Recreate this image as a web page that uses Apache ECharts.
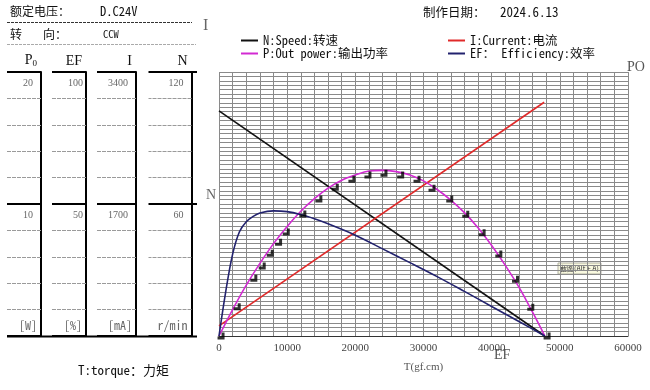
<!DOCTYPE html>
<html><head><meta charset="utf-8">
<script src="https://cdn.jsdelivr.net/npm/echarts@6/dist/echarts.min.js"></script>
<style>html,body{margin:0;padding:0;background:#fff}#c{width:650px;height:390px}</style>
</head><body><div id="c"></div>
<script>
// ---------- data ----------
const seriesNames = ['N:Speed:转速', 'I:Current:电流', 'P:Out power:输出功率', 'EF： Efficiency:效率'];
// Speed (r/min) vs torque (gf.cm)
const speedT = [0, 47800];
const speedN = [102.3, 0];
// Current (mA)
const currentT = [0, 47700];
const currentI = [130, 3010];
// Output power (W)
const powerT = [0, 2000, 4000, 6000, 8000, 10000, 12000, 14000, 16000, 18000, 20000, 22000, 24000,
  26000, 28000, 30000, 32000, 34000, 36000, 38000, 40000, 42000, 44000, 46000, 47800];
const powerW = [0, 2.0, 3.85, 5.5, 7.0, 8.3, 9.45, 10.4, 11.2, 11.8, 12.2, 12.5, 12.55,
  12.45, 12.2, 11.75, 11.1, 10.3, 9.35, 8.2, 6.85, 5.35, 3.7, 1.8, 0];
// Efficiency (%)
const effT = [0, 1000, 2000, 3000, 4000, 5000, 6000, 8000, 10000, 12000, 14000, 16000, 20000,
  24000, 28000, 32000, 36000, 40000, 44000, 47800];
const effPct = [0, 17, 31, 39.5, 43.3, 45.3, 46.6, 47.4, 47.1, 46.0, 44.4, 42.5, 38.2,
  33.0, 27.8, 22.5, 16.9, 11.2, 5.5, 0];
// measured power points (markers)
const markerT = [300, 2670, 5110, 6340, 7520, 8740, 9870, 12300, 14650, 17060, 19500, 21850, 24200,
  26650, 29050, 31250, 33850, 36200, 38600, 41050, 43500, 45740, 48130];
const markerP = [0, 2.22, 4.37, 5.30, 6.27, 7.10, 7.88, 9.24, 10.38, 11.27, 11.87, 12.20, 12.33,
  12.20, 11.87, 11.19, 10.38, 9.22, 7.83, 6.21, 4.30, 2.17, 0];
// left table axes
const tableNames = ['{a|P}{b|0}', 'EF', 'I', 'N'];
const tableMax = [20, 100, 3400, 120];
const tableStep = [10, 50, 1700, 60];
const tableUnits = ['[W]', '[%]', '[mA]', 'r/min'];
// x axis
const xMin = 0, xMax = 60000, xStep = 10000;
const headerTexts = ['额定电压：', 'D.C24V', '转', '向：', 'CCW', '制作日期：', '2024.6.13'];

// ---------- layout / style ----------
const SERIF = "'Liberation Serif','Noto Sans CJK SC',serif";
const MONO = "'Noto Sans Mono CJK SC','Liberation Mono','Noto Sans CJK SC',monospace";
const CJK = "'Noto Sans CJK SC',sans-serif";
const G = {left: 219, top: 72, width: 409, height: 264};
const axisX = [41, 86, 136, 191.5];
const tickLen = [34, 34, 39, 43];
const labelMargin = [8, 3, 8, 8];
const colors = {N: '#111111', I: '#e02a2a', P: '#d22ad2', EF: '#22226e'};
const gridLine = '#8a8a8a';

const zip = (a, b) => a.map((v, i) => [v, b[i]]);

const yAxes = tableMax.map((mx, i) => ({
  type: 'value', position: 'left', offset: G.left - axisX[i],
  min: 0, max: mx, interval: tableStep[i],
  name: tableNames[i], nameLocation: 'end', nameGap: 4,
  nameTextStyle: {align: 'right', verticalAlign: 'bottom', padding: [0, 4, 0, 0],
    fontSize: 14, color: '#111', fontFamily: SERIF,
    rich: {a: {fontSize: 14, fontFamily: SERIF, color: '#111'},
           b: {fontSize: 9, fontFamily: SERIF, color: '#111', verticalAlign: 'bottom', padding: [6, 0, 0, 0]}}},
  axisLine: {show: true, onZero: false, lineStyle: {color: '#000', width: 2}},
  axisTick: {show: true, length: tickLen[i], lineStyle: {color: '#000', width: 2}},
  minorTick: {show: true, splitNumber: 5, length: tickLen[i], lineStyle: {color: '#9a9a9a', width: 1, type: [4, 1]}},
  splitLine: {show: false}, minorSplitLine: {show: false},
  axisLabel: {show: true, showMinLabel: false, margin: labelMargin[i], verticalAlign: 'top',
    padding: [6, 0, 0, 0], fontSize: 10, color: '#666', fontFamily: SERIF,
    formatter: v => String(v)}
}));
// dense grid axis
yAxes.push({
  type: 'value', position: 'right', min: 0, max: 60, interval: 1,
  axisLine: {show: false}, axisTick: {show: false}, axisLabel: {show: false},
  splitLine: {show: true, lineStyle: {color: gridLine, width: 1}}
});

const txt = (x, y, text, font, fill, align) => ({
  type: 'text', x: x, y: y, silent: true,
  style: {text: text, font: font, fill: fill || '#111', align: align || 'left', textAlign: align || 'left',
    verticalAlign: 'middle', textVerticalAlign: 'middle'}
});
const ln = (x1, y1, x2, y2, stroke, w, dash) => ({
  type: 'line', silent: true, shape: {x1, y1, x2, y2},
  style: {stroke: stroke, lineWidth: w, lineDash: dash || null}
});

const graphic = [
  txt(10, 11, headerTexts[0], '12px ' + CJK),
  txt(100, 11, headerTexts[1], '12.5px ' + MONO),
  ln(7, 22.5, 192, 22.5, '#333', 1, [3, 1]),
  txt(10, 34, headerTexts[2], '12px ' + CJK),
  txt(43, 34, headerTexts[3], '12px ' + CJK),
  txt(103, 34, headerTexts[4], '10.5px ' + MONO),
  ln(7, 44.5, 196, 44.5, '#aaa', 1, [3, 1]),
  txt(203, 26, 'I', '16px ' + SERIF, '#666'),
  txt(206, 195, 'N', '14px ' + SERIF, '#666'),
  txt(423, 12, headerTexts[5], '12.5px ' + CJK),
  txt(500, 12, headerTexts[6], '13px ' + MONO),
  txt(627, 67, 'PO', '14px ' + SERIF, '#555'),
  txt(494, 355, 'EF', '14px ' + SERIF, '#555'),
  txt(78, 370, 'T:torque：力矩', '13px ' + MONO, '#111'),
  ln(7, 336.5, 197, 336.5, '#000', 2),
  ln(191, 72, 197, 72, '#000', 2),
  ln(191, 204, 197, 204, '#000', 2),
  {type: 'rect', silent: true, shape: {x: 558, y: 263, width: 43, height: 11},
   style: {fill: '#f9f9e0', stroke: '#b0b0a0', lineWidth: 1}},
  txt(579.5, 268.5, '截图(Alt + A)', '7px ' + CJK, '#333', 'center')
];
tableUnits.forEach((u, i) => graphic.push(txt(axisX[i] - 4, 325, u, '12px ' + MONO, '#666', 'right')));

const lineSeries = (name, data, yIdx, color, smooth) => ({
  name: name, type: 'line', data: data, yAxisIndex: yIdx, smooth: smooth || false,
  showSymbol: false, symbol: 'none',
  lineStyle: {color: color, width: 1.6}, itemStyle: {color: color}, z: 6
});

const legendBase = {
  orient: 'vertical', top: 34, padding: 0, itemGap: 0, icon: 'rect',
  itemWidth: 17, itemHeight: 2,
  textStyle: {fontSize: 12.5, lineHeight: 13, color: '#111', fontFamily: MONO}
};

const option = {
  animation: false,
  backgroundColor: '#fff',
  grid: G,
  legend: [
    Object.assign({left: 241, data: [seriesNames[0], seriesNames[2]]}, legendBase),
    Object.assign({left: 448, data: [seriesNames[1], seriesNames[3]]}, legendBase)
  ],
  xAxis: {
    type: 'value', min: xMin, max: xMax, interval: xStep,
    name: 'T(gf.cm)', nameLocation: 'middle', nameGap: 26,
    nameTextStyle: {fontSize: 11, color: '#555', fontFamily: SERIF},
    axisLine: {show: true, lineStyle: {color: '#333'}},
    axisTick: {show: false},
    axisLabel: {fontSize: 11, color: '#444', margin: 7, fontFamily: SERIF, formatter: v => String(v)},
    splitLine: {show: true, lineStyle: {color: gridLine}},
    minorTick: {show: false, splitNumber: 5},
    minorSplitLine: {show: true, lineStyle: {color: gridLine}}
  },
  yAxis: yAxes,
  graphic: graphic,
  series: [
    lineSeries(seriesNames[0], zip(speedT, speedN), 3, colors.N),
    lineSeries(seriesNames[1], zip(currentT, currentI), 2, colors.I),
    lineSeries(seriesNames[2], zip(powerT, powerW), 0, colors.P, 0.35),
    lineSeries(seriesNames[3], zip(effT, effPct), 1, colors.EF, 0.35),
    {name: 'marker', type: 'scatter', yAxisIndex: 0, data: zip(markerT, markerP),
     symbol: 'path://M4,0H7V7H0V4H4Z', symbolSize: 7, itemStyle: {color: '#000'}, z: 8, silent: true}
  ]
};
const chart = echarts.init(document.getElementById('c'), null, {renderer: 'canvas'});
chart.setOption(option);
</script>
</body></html>
